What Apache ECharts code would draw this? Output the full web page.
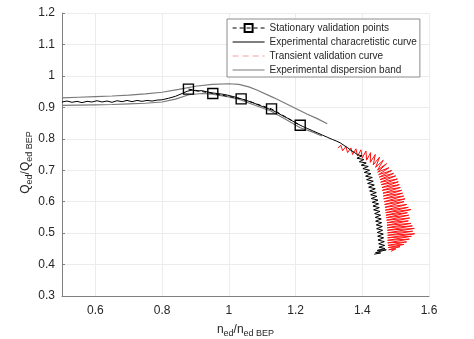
<!DOCTYPE html>
<html>
<head>
<meta charset="utf-8">
<script src="https://cdn.jsdelivr.net/npm/echarts@6/dist/echarts.min.js"></script>
<style>
  html, body { margin: 0; padding: 0; background: #fff; }
  #chart { width: 474px; height: 339px; }
</style>
</head>
<body>
<div id="chart"></div>
<script>
// Tick positions of the speed axis
const xTicks = [0.6, 0.8, 1.0, 1.2, 1.4, 1.6];

// Stationary validation points [n/nBEP, Q/QBEP]
const stationaryPoints = [
  [0.879, 0.958], [0.952, 0.944], [1.037, 0.927], [1.128, 0.895], [1.214, 0.843]
];

// Experimental characteristic curve (steady part followed by the noisy run-off tail)
const characteristicCurve = [
  [0.500, 0.917], [0.515, 0.920], [0.530, 0.916], [0.545, 0.919], [0.560, 0.915],
  [0.575, 0.919], [0.590, 0.917], [0.605, 0.921], [0.620, 0.917], [0.635, 0.920],
  [0.650, 0.916], [0.665, 0.921], [0.680, 0.918], [0.695, 0.922], [0.710, 0.918],
  [0.725, 0.922], [0.740, 0.919], [0.755, 0.922], [0.770, 0.920], [0.785, 0.923],
  [0.800, 0.924], [0.820, 0.929], [0.840, 0.935], [0.860, 0.944], [0.875, 0.951],
  [0.890, 0.955], [0.905, 0.952], [0.920, 0.953], [0.935, 0.949], [0.950, 0.946],
  [0.965, 0.944], [0.980, 0.942], [0.995, 0.939], [1.010, 0.935], [1.025, 0.931],
  [1.040, 0.926], [1.055, 0.921], [1.070, 0.916], [1.085, 0.909], [1.100, 0.903],
  [1.115, 0.897], [1.130, 0.891], [1.145, 0.883], [1.160, 0.874], [1.175, 0.866],
  [1.190, 0.857], [1.205, 0.848], [1.220, 0.840], [1.235, 0.833], [1.250, 0.826],
  [1.265, 0.819], [1.280, 0.812], [1.295, 0.805], [1.310, 0.798], [1.322, 0.793],
  [1.334, 0.787], [1.345, 0.779], [1.356, 0.772], [1.366, 0.763], [1.376, 0.757],
  [1.386, 0.749], [1.399, 0.746], [1.384, 0.738], [1.405, 0.734], [1.391, 0.727],
  [1.412, 0.723], [1.397, 0.716], [1.418, 0.712], [1.402, 0.705], [1.422, 0.700],
  [1.406, 0.693], [1.426, 0.689], [1.410, 0.681], [1.430, 0.677], [1.413, 0.670],
  [1.433, 0.665], [1.416, 0.658], [1.436, 0.653], [1.419, 0.646], [1.439, 0.641],
  [1.422, 0.634], [1.442, 0.629], [1.425, 0.622], [1.444, 0.617], [1.427, 0.610],
  [1.447, 0.605], [1.430, 0.598], [1.449, 0.593], [1.432, 0.586], [1.451, 0.581],
  [1.434, 0.574], [1.453, 0.569], [1.437, 0.562], [1.455, 0.557], [1.439, 0.550],
  [1.457, 0.545], [1.440, 0.538], [1.458, 0.533], [1.442, 0.526], [1.460, 0.521],
  [1.443, 0.514], [1.461, 0.509], [1.445, 0.502], [1.463, 0.497], [1.446, 0.490],
  [1.464, 0.485], [1.447, 0.478], [1.466, 0.473], [1.449, 0.466], [1.467, 0.461],
  [1.450, 0.455], [1.468, 0.451], [1.445, 0.445], [1.472, 0.447], [1.440, 0.438],
  [1.455, 0.437], [1.436, 0.433]
];

// Transient validation curve
const transientCurve = [
  [1.327, 0.771], [1.336, 0.779], [1.341, 0.762], [1.351, 0.775], [1.356, 0.756],
  [1.366, 0.771], [1.371, 0.750], [1.381, 0.768], [1.386, 0.745], [1.396, 0.765],
  [1.400, 0.739], [1.411, 0.761], [1.413, 0.732], [1.425, 0.756], [1.424, 0.725],
  [1.439, 0.750], [1.433, 0.717], [1.452, 0.742], [1.440, 0.709], [1.463, 0.732],
  [1.446, 0.701], [1.473, 0.721], [1.446, 0.694], [1.480, 0.708], [1.449, 0.686],
  [1.488, 0.699], [1.451, 0.678], [1.494, 0.690], [1.453, 0.670], [1.500, 0.682],
  [1.455, 0.662], [1.505, 0.672], [1.457, 0.654], [1.508, 0.663], [1.459, 0.645],
  [1.511, 0.654], [1.460, 0.636], [1.514, 0.645], [1.462, 0.627], [1.518, 0.636],
  [1.463, 0.618], [1.521, 0.627], [1.464, 0.609], [1.524, 0.618], [1.466, 0.600],
  [1.528, 0.609], [1.467, 0.591], [1.525, 0.600], [1.468, 0.582], [1.533, 0.591],
  [1.469, 0.573], [1.538, 0.582], [1.470, 0.565], [1.546, 0.575], [1.471, 0.557],
  [1.535, 0.565], [1.472, 0.549], [1.539, 0.557], [1.473, 0.541], [1.542, 0.548],
  [1.474, 0.533], [1.538, 0.539], [1.474, 0.525], [1.546, 0.531], [1.475, 0.517],
  [1.550, 0.523], [1.475, 0.509], [1.556, 0.515], [1.476, 0.501], [1.551, 0.506],
  [1.476, 0.493], [1.557, 0.498], [1.476, 0.485], [1.547, 0.490], [1.476, 0.477],
  [1.541, 0.481], [1.476, 0.469], [1.533, 0.472], [1.477, 0.461], [1.525, 0.464],
  [1.478, 0.454], [1.513, 0.457], [1.479, 0.447], [1.501, 0.450], [1.486, 0.442]
];

// Experimental dispersion band limits
const bandUpper = [
  [0.50, 0.930], [0.55, 0.932], [0.60, 0.934], [0.65, 0.936], [0.70, 0.939],
  [0.75, 0.943], [0.80, 0.948], [0.85, 0.957], [0.90, 0.967], [0.95, 0.973],
  [1.00, 0.975], [1.03, 0.973], [1.06, 0.965], [1.084, 0.955], [1.134, 0.931],
  [1.184, 0.905], [1.234, 0.879], [1.265, 0.864], [1.295, 0.848]
];
const bandLower = [
  [0.50, 0.906], [0.55, 0.907], [0.60, 0.908], [0.65, 0.909], [0.70, 0.911],
  [0.75, 0.913], [0.80, 0.917], [0.84, 0.926], [0.88, 0.940], [0.92, 0.944],
  [0.95, 0.942], [1.00, 0.933], [1.034, 0.924], [1.08, 0.906], [1.124, 0.889],
  [1.17, 0.862], [1.214, 0.835], [1.25, 0.822], [1.279, 0.809]
];

const names = {
  stationary: 'Stationary validation points',
  characteristic: 'Experimental characretistic curve',
  transient: 'Transient validation curve',
  band: 'Experimental dispersion band'
};

const FONT = '"Liberation Sans", Arial, sans-serif';
const TEXT = '#262626';
const GRID = '#ececec';
const AXIS = '#808080';
const BAND = '#7a7a7a';

const chart = echarts.init(document.getElementById('chart'), null, { renderer: 'canvas' });

const nameRich = {
  m: { fontFamily: FONT, fontSize: 12, color: TEXT },
  s: { fontFamily: FONT, fontSize: 9, color: TEXT, padding: [8, 0, 0, 0] }
};

const hiddenSymbol = { opacity: 0 };

chart.setOption({
  animation: false,
  backgroundColor: '#fff',
  textStyle: { fontFamily: FONT },
  grid: { left: 62, right: 45, top: 13, bottom: 43, containLabel: false, outerBoundsMode: 'none' },
  legend: {
    orient: 'vertical',
    left: 227,
    top: 19,
    z: 10,
    itemWidth: 32,
    itemHeight: 10,
    itemGap: 4,
    padding: [4, 3, 2, 5],
    backgroundColor: '#fff',
    borderColor: '#8c8c8c',
    borderWidth: 1,
    borderRadius: 0,
    textStyle: { fontFamily: FONT, fontSize: 10, color: TEXT },
    data: [
      { name: names.stationary, lineStyle: { width: 1, type: [4, 3] } },
      { name: names.characteristic, itemStyle: hiddenSymbol, lineStyle: { width: 1 } },
      { name: names.transient, itemStyle: hiddenSymbol,
        lineStyle: { type: [6, 4], color: '#f2a0a0', width: 1 } },
      { name: names.band, itemStyle: hiddenSymbol, lineStyle: { width: 1.2 } }
    ]
  },
  xAxis: {
    type: 'value',
    min: 0.5,
    max: 1.6,
    name: '{m|n}{s|ed}{m|/n}{s|ed BEP}',
    nameLocation: 'middle',
    nameGap: 25,
    nameMoveOverlap: false,
    nameTextStyle: { rich: nameRich },
    axisLine: { onZero: false, lineStyle: { color: AXIS, width: 1 } },
    axisTick: { inside: true, length: 3, lineStyle: { color: AXIS }, customValues: xTicks },
    axisLabel: { fontFamily: FONT, fontSize: 12, color: TEXT, margin: 9, customValues: xTicks,
      formatter: v => String(Math.round(v * 10) / 10) },
    splitLine: { show: false }
  },
  yAxis: {
    type: 'value',
    min: 0.3,
    max: 1.2,
    interval: 0.1,
    name: '{m|Q}{s|ed}{m|/Q}{s|ed BEP}',
    nameLocation: 'middle',
    nameRotate: 90,
    nameGap: 28,
    nameMoveOverlap: false,
    nameTextStyle: { rich: nameRich, padding: [0, 16, 0, 0] },
    axisLine: { onZero: false, lineStyle: { color: AXIS, width: 1 } },
    axisTick: { inside: true, length: 3, lineStyle: { color: AXIS } },
    axisLabel: { fontFamily: FONT, fontSize: 12, color: TEXT, margin: 7,
      formatter: v => String(Math.round(v * 10) / 10) },
    splitLine: { show: true, lineStyle: { color: GRID, width: 1 } }
  },
  series: [
    {
      // vertical grid lines at the speed ticks
      type: 'line', data: [], silent: true, z: 1,
      markLine: {
        silent: true, symbol: 'none', label: { show: false }, z: 1,
        lineStyle: { color: GRID, width: 1, type: 'solid' },
        data: xTicks.map(v => ({ xAxis: v }))
      }
    },
    {
      name: names.band, type: 'line', data: bandUpper, symbol: 'none',
      lineStyle: { color: BAND, width: 1.2 }, itemStyle: { color: BAND }, z: 2
    },
    {
      name: names.band, type: 'line', data: bandLower, symbol: 'none',
      lineStyle: { color: BAND, width: 1.2 }, itemStyle: { color: BAND }, z: 2
    },
    {
      name: names.transient, type: 'line', data: transientCurve, symbol: 'none',
      lineStyle: { color: '#ff1010', width: 1 }, itemStyle: { color: '#ff1010' }, z: 3
    },
    {
      name: names.characteristic, type: 'line', data: characteristicCurve, symbol: 'none',
      lineStyle: { color: '#000', width: 1 }, itemStyle: { color: '#000' }, z: 4
    },
    {
      name: names.stationary, type: 'line', data: stationaryPoints,
      symbol: 'rect', symbolSize: 10, showSymbol: true,
      lineStyle: { color: '#000', width: 1, type: [4, 3] },
      itemStyle: { color: 'rgba(255,255,255,0)', borderColor: '#000', borderWidth: 1.4 },
      z: 5
    }
  ]
});
</script>
</body>
</html>
